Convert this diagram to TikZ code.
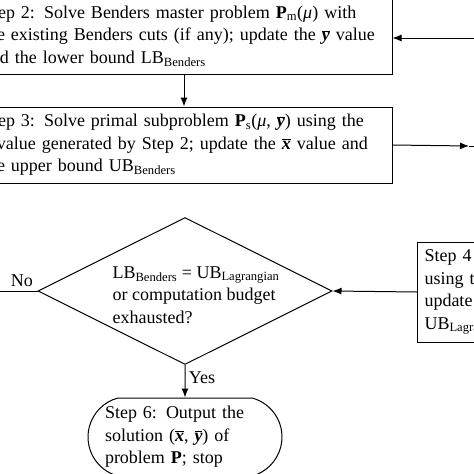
\documentclass[tikz,border=0pt]{standalone}
\usepackage{fontspec}
\setmainfont{Liberation Serif}
\usetikzlibrary{shapes.geometric, shapes.misc, arrows.meta, positioning}
\newcommand{\stepfont}{\fontsize{18}{22.5}\selectfont}
\newcommand{\barx}{$\overline{\mbox{\bfseries\itshape x}}$}
\newcommand{\bary}{$\overline{\mbox{\bfseries\itshape y}}$}
\tikzstyle{process} = [rectangle, draw=black, line width=1pt, minimum width=416pt, minimum height=76pt, text width=402pt, inner sep=7pt, align=left, font=\stepfont]
\tikzstyle{sideproc} = [rectangle, draw=black, line width=1pt, minimum height=100pt, text width=200pt, inner sep=7pt, align=left, font=\stepfont]
\tikzstyle{decision} = [diamond, draw=black, line width=1pt, minimum width=294pt, minimum height=147pt, aspect=2]
\tikzstyle{dectext} = [xshift=11pt, yshift=-4pt, align=left, font=\stepfont]
\tikzstyle{startstop} = [rounded rectangle, rounded rectangle arc length=150, draw=black, line width=1pt, minimum width=202pt, minimum height=78pt, text width=160pt, inner sep=4pt, align=left, font=\stepfont]
\tikzstyle{arrow} = [line width=1pt, -{Latex[length=9pt, width=7pt]}]
\tikzstyle{line} = [line width=1pt]

\begin{document}
\begin{tikzpicture}[x=1pt, y=1pt]
		\useasboundingbox (0,0) rectangle (474,-474);
		\clip (0,0) rectangle (474,-474);
		\node (s2) [process] at (184,-36) {Step 2: Solve Benders master problem \textbf{P}\textsubscript{m}(\textit{μ}) with\\ the existing Benders cuts (if any); update the \bary{} value\\ and the lower bound LB\textsubscript{Benders}};
		\node (s3) [process, below=32pt of s2] {Step 3: Solve primal subproblem \textbf{P}\textsubscript{s}(\textit{μ}, \bary) using the\\ \bary{} value generated by Step 2; update the \barx{} value and\\ the upper bound UB\textsubscript{Benders}};
		\node (dec) [decision, label={[dectext]center:{LB\textsubscript{Benders} = UB\textsubscript{Lagrangian}\\ or computation budget\\ exhausted?}}] at (185,-291) {};
		\node (s4) [sideproc, anchor=west] at (417,-292) {Step 4\\ using the\\ update the\\ UB\textsubscript{Lagrangian}};
		\node (s6) [startstop] at (185,-437) {Step 6: Output the\\ solution (\barx, \bary) of\\ problem \textbf{P}; stop};

		\coordinate (in2) at (480,-38);
		\coordinate (out3) at (469,-146);
		\coordinate (out3e) at (480,-146);
		\coordinate (noend) at (-10,-291);

		\draw [arrow] (in2) -- (in2 -| s2.east);
		\draw [arrow] (s2) -- (s3);
		\draw [arrow] (s3.east) -- (out3);
		\draw [line] (out3) -- (out3e);
		\draw [arrow] (s4.west) -- (dec.east);
		\draw [line] (dec.west) -- node [above, font=\stepfont, pos=0.33] {No} (noend);
		\draw [arrow] (dec) -- node [right, font=\stepfont, pos=0.4] {Yes} (s6);
		\end{tikzpicture}
\end{document}
